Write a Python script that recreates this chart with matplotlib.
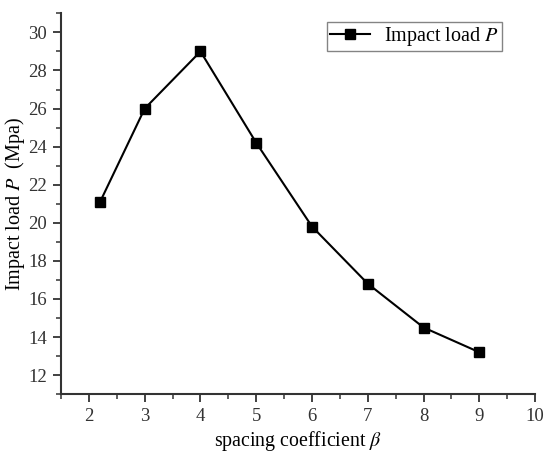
import matplotlib
matplotlib.use("Agg")
import matplotlib.pyplot as plt
from matplotlib.ticker import MultipleLocator

# data
beta = [2.2, 3, 4, 5, 6, 7, 8, 9]
load_p = [21.1, 26.0, 29.0, 24.2, 19.8, 16.8, 14.5, 13.2]

plt.rcParams['font.family'] = ['Liberation Serif', 'DejaVu Serif']
plt.rcParams['mathtext.fontset'] = 'stix'

fig = plt.figure(figsize=(5.5, 4.61), dpi=100)
ax = fig.add_axes([0.111, 0.145, 0.862, 0.826])

ax.plot(beta, load_p, color='black', lw=1.5, marker='s', ms=6.5,
        label='Impact load $P$')

ax.set_xlim(1.5, 10)
ax.set_ylim(11, 31)
ax.xaxis.set_major_locator(MultipleLocator(1))
ax.xaxis.set_minor_locator(MultipleLocator(0.5))
ax.yaxis.set_major_locator(MultipleLocator(2))
ax.yaxis.set_minor_locator(MultipleLocator(1))
ax.set_xticks(range(2, 11))

for s in ['top', 'right']:
    ax.spines[s].set_visible(False)
for s in ['left', 'bottom']:
    ax.spines[s].set_linewidth(1.5)
    ax.spines[s].set_color('#333333')

ax.tick_params(which='major', length=6, width=1.3, color='#333333',
               labelsize=13.5, labelcolor='#333333', pad=4)
ax.tick_params(which='minor', length=3.5, width=1.1, color='#333333')

ax.set_xlabel(r'spacing coefficient $\beta$', fontsize=14.3, labelpad=3)
ax.set_ylabel(r'Impact load $P$  (Mpa)', fontsize=14.5, labelpad=1)

leg = ax.legend(loc='upper right', bbox_to_anchor=(0.93, 0.977),
                fontsize=14.5, frameon=True, fancybox=False, handlelength=2.0,
                borderpad=0.15, handletextpad=0.7, borderaxespad=0)
leg.get_frame().set_edgecolor('#666666')
leg.get_frame().set_linewidth(1.0)

fig.savefig('out.png', dpi=100)
